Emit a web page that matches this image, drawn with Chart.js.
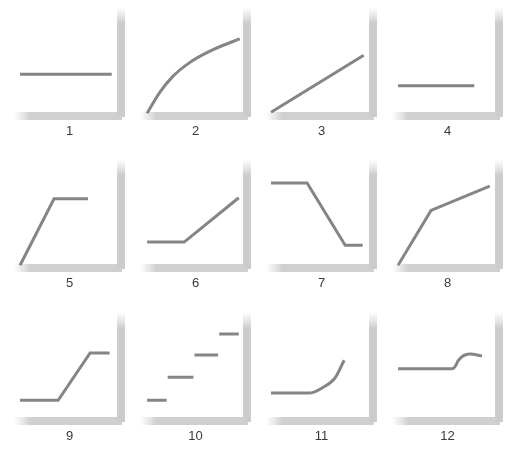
<!DOCTYPE html>
<html>
<head>
<meta charset="utf-8">
<script src="https://cdn.jsdelivr.net/npm/chart.js@4"></script>
<style>
  body { margin: 0; background: #fff; }
  #wrap { position: relative; width: 526px; height: 454px; }
  .cell { position: absolute; width: 126px; height: 150px; }
</style>
</head>
<body>
<div id="wrap"></div>
<script>
// labels under each little chart
var labels = ['1', '2', '3', '4', '5', '6', '7', '8', '9', '10', '11', '12'];

// line shapes, x and y on a 0..10 scale
var line1 = [[0.2, 4.0], [9.1, 4.0]];
var line2 = [[0.3, 0.3], [1.55, 2.3], [2.8, 3.8], [4.5, 5.15], [6.1, 6.05], [7.7, 6.75], [9.3, 7.35]];
var line3 = [[0.1, 0.4], [9.1, 5.8]];
var line4 = [[0.2, 2.9], [7.6, 2.9]];
var line5 = [[0.2, 0.3], [3.5, 6.6], [6.8, 6.6]];
var line6 = [[0.3, 2.5], [3.9, 2.5], [9.2, 6.7]];
var line7 = [[0.1, 8.1], [3.6, 8.1], [7.3, 2.2], [9.0, 2.2]];
var line8 = [[0.2, 0.3], [3.4, 5.5], [9.1, 7.8]];
var line9 = [[0.2, 2.0], [3.9, 2.0], [7.0, 6.5], [8.9, 6.5]];
var line10 = [[0.3, 2.0], [2.2, 2.0], [2.25, null], [2.3, 4.2], [4.8, 4.2], [4.85, null],
              [4.9, 6.3], [7.2, 6.3], [7.25, null], [7.3, 8.3], [9.2, 8.3]];
var line11 = [[0.1, 2.7], [3.9, 2.7], [5.1, 3.2], [6.3, 4.1], [7.2, 5.8]];
var line12 = [[0.2, 5.0], [5.5, 5.0], [5.8, 5.3], [6.0, 5.7], [6.3, 6.05], [6.7, 6.3], [7.2, 6.4], [8.35, 6.2]];

var lines = [line1, line2, line3, line4, line5, line6, line7, line8, line9, line10, line11, line12];
var smooth = [false, true, false, false, false, false, false, false, false, false, true, true];

var colLeft = [0, 126, 252, 378];
var rowTop = [0, 152, 305];

// soft grey stripes for the axes, fading out at their free ends
function xStripe(c) {
  var ch = c.chart, ca = ch.chartArea;
  if (!ca) return '#d4d4d4';
  var g = ch.ctx.createLinearGradient(ca.left - 4, 0, ca.left + 12, 0);
  g.addColorStop(0, 'rgba(215,215,215,0)');
  g.addColorStop(1, 'rgba(208,208,208,1)');
  return g;
}
function yStripe(c) {
  var ch = c.chart, ca = ch.chartArea;
  if (!ca) return '#d4d4d4';
  var g = ch.ctx.createLinearGradient(0, ca.top - 4, 0, ca.top + 12);
  g.addColorStop(0, 'rgba(215,215,215,0)');
  g.addColorStop(1, 'rgba(204,204,204,1)');
  return g;
}

var wrap = document.getElementById('wrap');

for (let i = 0; i < 12; i++) {
  let div = document.createElement('div');
  div.className = 'cell';
  div.style.left = colLeft[i % 4] + 'px';
  div.style.top = rowTop[Math.floor(i / 4)] + 'px';
  let cv = document.createElement('canvas');
  div.appendChild(cv);
  wrap.appendChild(div);

  let pts = lines[i].map(function (p) { return { x: p[0], y: p[1] }; });

  new Chart(cv.getContext('2d'), {
    type: 'line',
    data: {
      datasets: [{
        data: pts,
        borderColor: '#858585',
        borderWidth: 3,
        pointRadius: 0,
        cubicInterpolationMode: smooth[i] ? 'monotone' : 'default',
        tension: 0,
        spanGaps: false
      }]
    },
    options: {
      responsive: true,
      maintainAspectRatio: false,
      animation: false,
      layout: { padding: { left: 18, right: 5, top: 11, bottom: 11 } },
      plugins: { legend: { display: false }, tooltip: { enabled: false } },
      scales: {
        x: {
          type: 'linear',
          min: 0,
          max: 10,
          ticks: { display: false },
          grid: { display: false, drawTicks: false },
          border: { display: true, color: xStripe, width: 8 },
          title: {
            display: true,
            text: labels[i],
            color: '#3a3a3a',
            font: { family: 'Liberation Sans', size: 13 },
            padding: { top: 7, bottom: 0 }
          }
        },
        y: {
          position: 'right',
          min: 0,
          max: 10,
          ticks: { display: false },
          grid: { display: false, drawTicks: false },
          border: { display: true, color: yStripe, width: 8 }
        }
      }
    }
  });
}
</script>
</body>
</html>
